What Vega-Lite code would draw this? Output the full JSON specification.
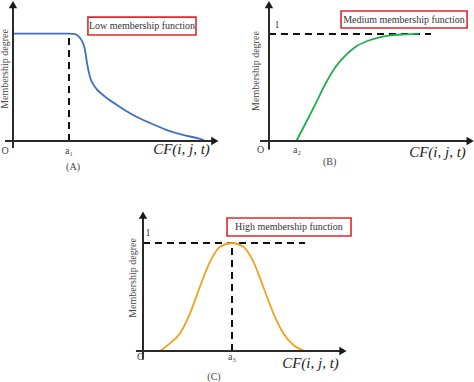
{
  "$schema": "https://vega.github.io/schema/vega-lite/v6.json",
  "padding": 0,
  "background": "white",
  "config": {"view": {"stroke": null}},
  "datasets": {
    "curveA": [
      {"u": 0, "m": 1}, {"u": 2.705, "m": 1}, {"u": 3.0, "m": 0.995}, {"u": 3.237, "m": 0.958},
      {"u": 3.38, "m": 0.912}, {"u": 3.478, "m": 0.847}, {"u": 3.575, "m": 0.726}, {"u": 3.72, "m": 0.595},
      {"u": 3.96, "m": 0.502}, {"u": 4.35, "m": 0.428}, {"u": 5.02, "m": 0.335}, {"u": 5.8, "m": 0.242},
      {"u": 6.62, "m": 0.167}, {"u": 7.44, "m": 0.102}, {"u": 8.21, "m": 0.056}, {"u": 9.03, "m": 0.019},
      {"u": 9.28, "m": 0}
    ],
    "curveB": [
      {"u": 1.32, "m": 0}, {"u": 1.77, "m": 0.165}, {"u": 2.26, "m": 0.35}, {"u": 2.74, "m": 0.537},
      {"u": 3.22, "m": 0.691}, {"u": 3.71, "m": 0.8}, {"u": 4.19, "m": 0.877}, {"u": 4.99, "m": 0.946},
      {"u": 5.8, "m": 0.98}, {"u": 6.6, "m": 0.993}, {"u": 7.25, "m": 1}
    ],
    "curveC": [
      {"u": 0.82, "m": 0}, {"u": 1.3, "m": 0.071}, {"u": 1.79, "m": 0.164}, {"u": 2.27, "m": 0.349},
      {"u": 2.75, "m": 0.595}, {"u": 3.24, "m": 0.827}, {"u": 3.72, "m": 0.966}, {"u": 4.3, "m": 1},
      {"u": 4.85, "m": 0.966}, {"u": 5.33, "m": 0.827}, {"u": 5.81, "m": 0.595}, {"u": 6.3, "m": 0.349},
      {"u": 6.78, "m": 0.164}, {"u": 7.26, "m": 0.056}, {"u": 7.83, "m": 0}
    ],
    "axes": [
      {"panel": "A", "u": 0, "m": -0.065, "u2": 0, "m2": 1.26},
      {"panel": "A", "u": -0.386, "m": 0, "u2": 9.7, "m2": 0},
      {"panel": "B", "u": 0, "m": -0.08, "u2": 0, "m2": 1.26},
      {"panel": "B", "u": -0.435, "m": 0, "u2": 9.65, "m2": 0},
      {"panel": "C", "u": 0, "m": -0.08, "u2": 0, "m2": 1.25},
      {"panel": "C", "u": -0.34, "m": 0, "u2": 9.6, "m2": 0}
    ],
    "arrows": [
      {"panel": "A", "shape": "triangle-up", "u": 0, "m": 1.27},
      {"panel": "A", "shape": "triangle-right", "u": 9.75, "m": 0},
      {"panel": "B", "shape": "triangle-up", "u": 0, "m": 1.27},
      {"panel": "B", "shape": "triangle-right", "u": 9.72, "m": 0},
      {"panel": "C", "shape": "triangle-up", "u": 0, "m": 1.259},
      {"panel": "C", "shape": "triangle-right", "u": 9.66, "m": 0}
    ],
    "dashes": [
      {"panel": "A", "u": 2.705, "m": 0, "u2": 2.705, "m2": 1},
      {"panel": "B", "u": 0, "m": 0.995, "u2": 7.83, "m2": 0.995},
      {"panel": "C", "u": 0, "m": 1, "u2": 7.83, "m2": 1},
      {"panel": "C", "u": 4.3, "m": 0, "u2": 4.3, "m2": 1}
    ],
    "boxes": [
      {"panel": "A", "u": 3.62, "u2": 8.84, "m": 0.986, "m2": 1.153, "tu": 6.23, "tm": 1.07, "text": "Low membership function"},
      {"panel": "B", "u": 3.48, "u2": 9.57, "m": 1.051, "m2": 1.21, "tu": 6.52, "tm": 1.13, "text": "Medium membership function"},
      {"panel": "C", "u": 4.06, "u2": 10.05, "m": 1.065, "m2": 1.231, "tu": 7.05, "tm": 1.148, "text": "High membership function"}
    ],
    "labels": [
      {"panel": "A", "u": -0.386, "m": -0.09, "text": "O"},
      {"panel": "A", "u": 2.705, "m": -0.09, "text": "a₁"},
      {"panel": "A", "u": 2.9, "m": -0.239, "text": "(A)"},
      {"panel": "B", "u": -0.4, "m": -0.084, "text": "O"},
      {"panel": "B", "u": 1.35, "m": -0.084, "text": "a₂"},
      {"panel": "B", "u": 2.93, "m": -0.193, "text": "(B)"},
      {"panel": "B", "u": 0.386, "m": 1.079, "text": "1"},
      {"panel": "C", "u": -0.11, "m": -0.055, "text": "O"},
      {"panel": "C", "u": 4.3, "m": -0.055, "text": "a₃"},
      {"panel": "C", "u": 3.43, "m": -0.24, "text": "(C)"},
      {"panel": "C", "u": 0.24, "m": 1.093, "text": "1"}
    ],
    "cf": [
      {"panel": "A", "u": 8.14, "m": -0.074, "text": "CF(i, j, t)"},
      {"panel": "B", "u": 8.14, "m": -0.102, "text": "CF(i, j, t)"},
      {"panel": "C", "u": 8.09, "m": -0.111, "text": "CF(i, j, t)"}
    ],
    "ytitles": [
      {"panel": "A", "u": -0.386, "m": 0.67, "text": "Membership degree"},
      {"panel": "B", "u": -0.628, "m": 0.651, "text": "Membership degree"},
      {"panel": "C", "u": -0.48, "m": 0.676, "text": "Membership degree"}
    ]
  },
  "vconcat": [
    {
      "hconcat": [
        {
          "width": 230, "height": 180,
          "encoding": {
            "x": {"field": "u", "type": "quantitative", "scale": {"domain": [-0.628, 10.483], "nice": false, "zero": false}, "axis": null},
            "y": {"field": "m", "type": "quantitative", "scale": {"domain": [-0.363, 1.312], "nice": false, "zero": false}, "axis": null}
          },
          "layer": [
            {"data": {"name": "boxes"}, "transform": [{"filter": "datum.panel === 'A'"}],
             "mark": {"type": "rect", "fill": "white", "stroke": "#e0262e", "strokeWidth": 1.6},
             "encoding": {"x2": {"field": "u2"}, "y2": {"field": "m2"}}},
            {"data": {"name": "boxes"}, "transform": [{"filter": "datum.panel === 'A'"}],
             "mark": {"type": "text", "font": "Liberation Serif", "fontSize": 10, "color": "#333", "baseline": "middle"},
             "encoding": {"x": {"field": "tu", "type": "quantitative"}, "y": {"field": "tm", "type": "quantitative"}, "text": {"field": "text"}}},
            {"data": {"name": "dashes"}, "transform": [{"filter": "datum.panel === 'A'"}],
             "mark": {"type": "rule", "color": "#111", "strokeWidth": 2, "strokeDash": [7, 5]},
             "encoding": {"x2": {"field": "u2"}, "y2": {"field": "m2"}}},
            {"data": {"name": "curveA"},
             "mark": {"type": "line", "color": "#3f6fc3", "strokeWidth": 1.8, "interpolate": "monotone"},
             "encoding": {}},
            {"data": {"name": "axes"}, "transform": [{"filter": "datum.panel === 'A'"}],
             "mark": {"type": "rule", "color": "#2a2a2a", "strokeWidth": 2},
             "encoding": {"x2": {"field": "u2"}, "y2": {"field": "m2"}}},
            {"data": {"name": "arrows"}, "transform": [{"filter": "datum.panel === 'A'"}],
             "mark": {"type": "point", "filled": true, "color": "#1a1a1a", "size": 70, "opacity": 1},
             "encoding": {"shape": {"field": "shape", "type": "nominal", "scale": null, "legend": null}}},
            {"data": {"name": "labels"}, "transform": [{"filter": "datum.panel === 'A'"}],
             "mark": {"type": "text", "font": "Liberation Serif", "fontSize": 10, "color": "#444", "baseline": "middle"},
             "encoding": {"text": {"field": "text"}}},
            {"data": {"name": "cf"}, "transform": [{"filter": "datum.panel === 'A'"}],
             "mark": {"type": "text", "font": "Liberation Serif", "fontSize": 15, "fontStyle": "italic", "color": "#222", "baseline": "middle"},
             "encoding": {"text": {"field": "text"}}},
            {"data": {"name": "ytitles"}, "transform": [{"filter": "datum.panel === 'A'"}],
             "mark": {"type": "text", "font": "Liberation Serif", "fontSize": 10, "color": "#444", "baseline": "middle", "angle": 270},
             "encoding": {"text": {"field": "text"}}}
          ]
        },
        {
          "width": 224, "height": 180,
          "encoding": {
            "x": {"field": "u", "type": "quantitative", "scale": {"domain": [-0.821, 10.0], "nice": false, "zero": false}, "axis": null},
            "y": {"field": "m", "type": "quantitative", "scale": {"domain": [-0.363, 1.312], "nice": false, "zero": false}, "axis": null}
          },
          "layer": [
            {"data": {"name": "boxes"}, "transform": [{"filter": "datum.panel === 'B'"}],
             "mark": {"type": "rect", "fill": "white", "stroke": "#e0262e", "strokeWidth": 1.6},
             "encoding": {"x2": {"field": "u2"}, "y2": {"field": "m2"}}},
            {"data": {"name": "boxes"}, "transform": [{"filter": "datum.panel === 'B'"}],
             "mark": {"type": "text", "font": "Liberation Serif", "fontSize": 10, "color": "#333", "baseline": "middle"},
             "encoding": {"x": {"field": "tu", "type": "quantitative"}, "y": {"field": "tm", "type": "quantitative"}, "text": {"field": "text"}}},
            {"data": {"name": "dashes"}, "transform": [{"filter": "datum.panel === 'B'"}],
             "mark": {"type": "rule", "color": "#111", "strokeWidth": 2, "strokeDash": [7, 5]},
             "encoding": {"x2": {"field": "u2"}, "y2": {"field": "m2"}}},
            {"data": {"name": "curveB"},
             "mark": {"type": "line", "color": "#1fae4a", "strokeWidth": 1.8, "interpolate": "monotone"},
             "encoding": {}},
            {"data": {"name": "axes"}, "transform": [{"filter": "datum.panel === 'B'"}],
             "mark": {"type": "rule", "color": "#2a2a2a", "strokeWidth": 2},
             "encoding": {"x2": {"field": "u2"}, "y2": {"field": "m2"}}},
            {"data": {"name": "arrows"}, "transform": [{"filter": "datum.panel === 'B'"}],
             "mark": {"type": "point", "filled": true, "color": "#1a1a1a", "size": 70, "opacity": 1},
             "encoding": {"shape": {"field": "shape", "type": "nominal", "scale": null, "legend": null}}},
            {"data": {"name": "labels"}, "transform": [{"filter": "datum.panel === 'B'"}],
             "mark": {"type": "text", "font": "Liberation Serif", "fontSize": 10, "color": "#444", "baseline": "middle"},
             "encoding": {"text": {"field": "text"}}},
            {"data": {"name": "cf"}, "transform": [{"filter": "datum.panel === 'B'"}],
             "mark": {"type": "text", "font": "Liberation Serif", "fontSize": 15, "fontStyle": "italic", "color": "#222", "baseline": "middle"},
             "encoding": {"text": {"field": "text"}}},
            {"data": {"name": "ytitles"}, "transform": [{"filter": "datum.panel === 'B'"}],
             "mark": {"type": "text", "font": "Liberation Serif", "fontSize": 10, "color": "#444", "baseline": "middle", "angle": 270},
             "encoding": {"text": {"field": "text"}}}
          ]
        }
      ],
      "spacing": 20
    },
    {
      "width": 474, "height": 182,
      "encoding": {
        "x": {"field": "u", "type": "quantitative", "scale": {"domain": [-6.908, 15.99], "nice": false, "zero": false}, "axis": null},
        "y": {"field": "m", "type": "quantitative", "scale": {"domain": [-0.287, 1.398], "nice": false, "zero": false}, "axis": null}
      },
      "layer": [
        {"data": {"name": "boxes"}, "transform": [{"filter": "datum.panel === 'C'"}],
         "mark": {"type": "rect", "fill": "white", "stroke": "#e0262e", "strokeWidth": 1.6},
         "encoding": {"x2": {"field": "u2"}, "y2": {"field": "m2"}}},
        {"data": {"name": "boxes"}, "transform": [{"filter": "datum.panel === 'C'"}],
         "mark": {"type": "text", "font": "Liberation Serif", "fontSize": 10, "color": "#333", "baseline": "middle"},
         "encoding": {"x": {"field": "tu", "type": "quantitative"}, "y": {"field": "tm", "type": "quantitative"}, "text": {"field": "text"}}},
        {"data": {"name": "dashes"}, "transform": [{"filter": "datum.panel === 'C'"}],
         "mark": {"type": "rule", "color": "#111", "strokeWidth": 2, "strokeDash": [7, 5]},
         "encoding": {"x2": {"field": "u2"}, "y2": {"field": "m2"}}},
        {"data": {"name": "curveC"},
         "mark": {"type": "line", "color": "#efa21f", "strokeWidth": 1.8, "interpolate": "monotone"},
         "encoding": {}},
        {"data": {"name": "axes"}, "transform": [{"filter": "datum.panel === 'C'"}],
         "mark": {"type": "rule", "color": "#2a2a2a", "strokeWidth": 2},
         "encoding": {"x2": {"field": "u2"}, "y2": {"field": "m2"}}},
        {"data": {"name": "arrows"}, "transform": [{"filter": "datum.panel === 'C'"}],
         "mark": {"type": "point", "filled": true, "color": "#1a1a1a", "size": 70, "opacity": 1},
         "encoding": {"shape": {"field": "shape", "type": "nominal", "scale": null, "legend": null}}},
        {"data": {"name": "labels"}, "transform": [{"filter": "datum.panel === 'C'"}],
         "mark": {"type": "text", "font": "Liberation Serif", "fontSize": 10, "color": "#444", "baseline": "middle"},
         "encoding": {"text": {"field": "text"}}},
        {"data": {"name": "cf"}, "transform": [{"filter": "datum.panel === 'C'"}],
         "mark": {"type": "text", "font": "Liberation Serif", "fontSize": 15, "fontStyle": "italic", "color": "#222", "baseline": "middle"},
         "encoding": {"text": {"field": "text"}}},
        {"data": {"name": "ytitles"}, "transform": [{"filter": "datum.panel === 'C'"}],
         "mark": {"type": "text", "font": "Liberation Serif", "fontSize": 10, "color": "#444", "baseline": "middle", "angle": 270},
         "encoding": {"text": {"field": "text"}}}
      ]
    }
  ],
  "spacing": 20
}
